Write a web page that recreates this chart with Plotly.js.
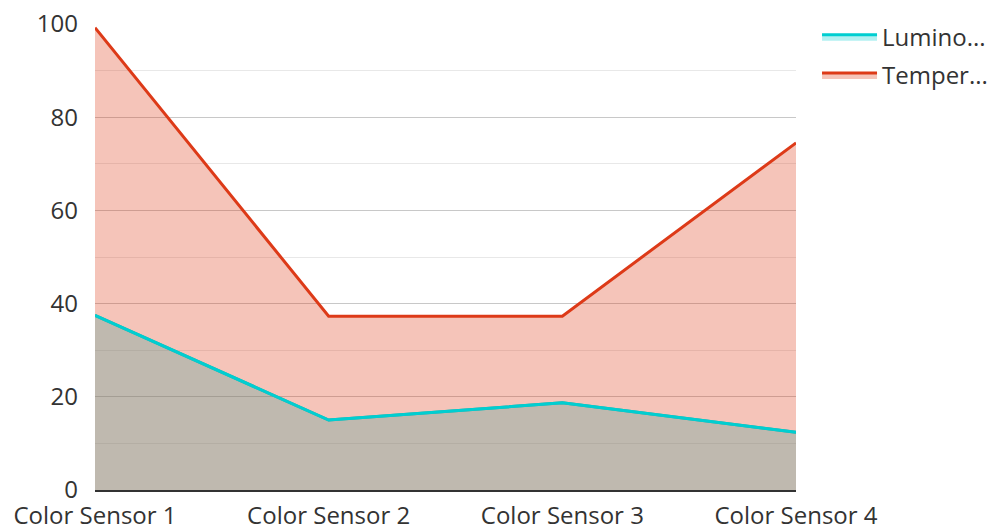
<!DOCTYPE html>
<html><head><meta charset="utf-8">
<script src="https://cdn.plot.ly/plotly-3.0.1.min.js"></script>
<style>html,body{margin:0;padding:0;background:#fff}</style>
</head><body><div id="chart" style="width:991px;height:531px"></div>
<script>
const categories = ["Color Sensor 1", "Color Sensor 2", "Color Sensor 3", "Color Sensor 4"];
const luminosity = [37.5, 15.0, 18.7, 12.4];
const temperature = [99.2, 37.3, 37.3, 74.5];
const seriesNames = ["Lumino...", "Temper..."];

const traces = [
  {x: categories, y: luminosity, name: seriesNames[0], legendgroup: "a", type: "scatter", mode: "lines",
   fill: "tozeroy", fillcolor: "rgba(0,206,209,0.3)", line: {color: "#00ced1", width: 3}},
  {x: categories, y: temperature, name: seriesNames[1], legendgroup: "b", type: "scatter", mode: "lines",
   fill: "tozeroy", fillcolor: "rgba(221,58,24,0.3)", line: {color: "#dd3a18", width: 3}},
  {x: categories, y: luminosity, name: seriesNames[0], legendgroup: "a", type: "scatter", mode: "lines",
   showlegend: false, line: {color: "#00ced1", width: 3}}
];
const layout = {
  width: 991, height: 531,
  margin: {l: 95, r: 195, t: 24, b: 41, autoexpand: false},
  paper_bgcolor: "#fff", plot_bgcolor: "#fff",
  font: {family: "Open Sans, Noto Sans, sans-serif", size: 24, color: "#333"},
  showlegend: true,
  legend: {x: 1.03, y: 1.02, xanchor: "left", yanchor: "top", font: {size: 24, color: "#333"},
           traceorder: "grouped", tracegroupgap: 4, itemwidth: 55},
  xaxis: {type: "category", range: [0, 3], showgrid: false, showline: true, linecolor: "#333",
          linewidth: 2, ticks: "", ticklabelstandoff: 3, automargin: false,
          tickfont: {size: 24, color: "#333"}},
  yaxis: {range: [0, 100], dtick: 20, showgrid: true, gridcolor: "#c8c8c8", gridwidth: 1,
          zeroline: false, showline: false, ticks: "", tickfont: {size: 24, color: "#333"},
          ticklabelstandoff: 16, automargin: false,
          minor: {dtick: 10, showgrid: true, gridcolor: "#e8e8e8", gridwidth: 1}}
};
Plotly.newPlot("chart", traces, layout, {displayModeBar: false, staticPlot: true});
</script></body></html>
